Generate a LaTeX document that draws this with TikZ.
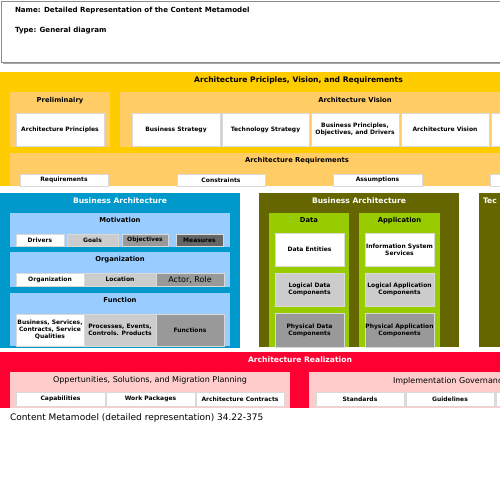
\documentclass[tikz,border=0pt]{standalone}
\usepackage{fontspec}
\setmainfont{DejaVu Sans}
\usetikzlibrary{positioning}
\begin{document}
\begin{tikzpicture}[x=1pt,y=-1pt,
    every node/.style={inner sep=0pt, outer sep=0pt},
    panel/.style={anchor=north west},
    cell/.style={anchor=north west, draw=black!15, align=center,
      font=\fontsize{6}{7}\selectfont\bfseries},
    bandtitle/.style={text height=5.5pt, text depth=1.5pt,
      font=\fontsize{7.6}{9}\selectfont\bfseries},
    subtitle/.style={text height=5pt, text depth=1.5pt,
      font=\fontsize{6.8}{8}\selectfont\bfseries},
    plaintitle/.style={text height=5.5pt, text depth=1.5pt,
      font=\fontsize{8}{9}\selectfont}]

  % colores
  \definecolor{gold}{RGB}{255,204,0}
  \definecolor{peach}{RGB}{255,204,102}
  \definecolor{bizblue}{RGB}{0,153,204}
  \definecolor{skyblue}{RGB}{153,204,255}
  \definecolor{olive}{RGB}{102,102,0}
  \definecolor{lime}{RGB}{153,204,0}
  \definecolor{realred}{RGB}{255,0,51}
  \definecolor{rose}{RGB}{255,204,204}
  \definecolor{lgray}{RGB}{204,204,204}
  \definecolor{mgray}{RGB}{153,153,153}
  \definecolor{dgray}{RGB}{102,102,102}

  \useasboundingbox (0,0) rectangle (500,500);
  \clip (0,0) rectangle (500,500);

  % --- Cabecera ---
  \fill[black!35] (3,62) rectangle (560,64);
  \node[panel, draw=black!45, fill=white, minimum width=560pt, minimum height=61pt] (header) at (1,1) {};
  \node[anchor=west, font=\fontsize{7.1}{8}\selectfont\bfseries] (hname) at (15,11) {Name: Detailed Representation of the Content Metamodel};
  \node[anchor=west, font=\fontsize{7.1}{8}\selectfont\bfseries] (htype) at (15,31) {Type: General diagram};

  % --- Principios, visión y requisitos ---
  \node[panel, fill=gold, minimum width=597pt, minimum height=114pt] (apvr) at (0,72) {};
  \node[bandtitle, below=5.5pt of apvr.north] (apvrt) {Architecture Priciples, Vision, and Requirements};

  \node[panel, fill=peach, minimum width=100pt, minimum height=55pt] (prelim) at (10,92) {};
  \node[subtitle, below=5.5pt of prelim.north] (prelimt) {Preliminairy};
  \node[cell, fill=white, minimum width=88pt, minimum height=33pt] (principles) at (16,113) {Architecture Principles};

  \node[panel, fill=peach, minimum width=470pt, minimum height=55pt] (visionp) at (120,92) {};
  \node[subtitle, below=5.5pt of visionp.north] (visionpt) {Architecture Vision};
  \node[cell, fill=white, minimum width=88pt, minimum height=33pt] (bstrategy) at (132,113) {Business Strategy};
  \node[cell, fill=white, minimum width=87pt, minimum height=33pt] (tstrategy) at (222,113) {Technology Strategy};
  \node[cell, fill=white, minimum width=88pt, minimum height=33pt] (bprinciples) at (311,113) {Business Principles,\\Objectives, and Drivers};
  \node[cell, fill=white, minimum width=88pt, minimum height=33pt] (avision) at (401,113) {Architecture Vision};
  \node[cell, fill=white, minimum width=88pt, minimum height=33pt] (vnext) at (491,113) {};

  \node[panel, fill=peach, minimum width=574pt, minimum height=33pt] (reqp) at (10,153) {};
  \node[subtitle, below=4.5pt of reqp.north] (reqpt) {Architecture Requirements};
  \node[cell, fill=white, minimum width=88pt, minimum height=12pt] (requirements) at (20,174) {Requirements};
  \node[cell, fill=white, minimum width=88pt, minimum height=12pt] (constraints) at (177,174) {Constraints};
  \node[cell, fill=white, minimum width=89pt, minimum height=12pt] (assumptions) at (333,174) {Assumptions};
  \node[cell, fill=white, minimum width=88pt, minimum height=12pt] (rnext) at (490,174) {};

  % --- Arquitectura de negocio (azul) ---
  \node[panel, fill=bizblue, minimum width=240pt, minimum height=155pt] (bizp) at (0,193) {};
  \node[bandtitle, text=white, below=4.5pt of bizp.north] (bizpt) {Business Architecture};

  \node[panel, fill=skyblue, minimum width=220pt, minimum height=34pt] (motivp) at (10,213) {};
  \node[subtitle, below=4pt of motivp.north] (motivpt) {Motivation};
  \node[cell, fill=white, minimum width=48pt, minimum height=12pt] (drivers) at (16,234) {Drivers};
  \node[cell, fill=lgray, minimum width=51pt, minimum height=12pt] (goals) at (67,234) {Goals};
  \node[cell, fill=mgray, minimum width=46pt, minimum height=12pt] (objectives) at (122,234) {Objectives};
  \node[cell, fill=dgray, minimum width=47pt, minimum height=12pt] (measures) at (176,234) {Measures};

  \node[panel, fill=skyblue, minimum width=220pt, minimum height=35pt] (orgp) at (10,252) {};
  \node[subtitle, below=4.5pt of orgp.north] (orgpt) {Organization};
  \node[cell, fill=white, minimum width=68pt, minimum height=13pt] (organization) at (16,273) {Organization};
  \node[cell, fill=lgray, minimum width=72pt, minimum height=13pt] (location) at (84,273) {Location};
  \node[cell, fill=mgray, minimum width=68pt, minimum height=13pt, font=\fontsize{8}{9}\selectfont] (actor) at (156,273) {Actor, Role};

  \node[panel, fill=skyblue, minimum width=220pt, minimum height=53pt] (funcp) at (10,293) {};
  \node[subtitle, below=4.5pt of funcp.north] (funcpt) {Function};
  \node[cell, fill=white, minimum width=68pt, minimum height=32pt] (bservices) at (16,314) {Business, Services,\\Contracts, Service\\Qualities};
  \node[cell, fill=lgray, minimum width=72pt, minimum height=32pt] (processes) at (84,314) {Processes, Events,\\Controls. Products};
  \node[cell, fill=mgray, minimum width=68pt, minimum height=32pt] (functions) at (156,314) {Functions};

  % --- Arquitectura de negocio (datos y aplicaciones) ---
  \node[panel, fill=olive, minimum width=200pt, minimum height=154pt] (isp) at (259,193) {};
  \node[bandtitle, text=white, below=4.5pt of isp.north] (ispt) {Business Architecture};

  \node[panel, fill=lime, minimum width=80pt, minimum height=134pt] (datap) at (269,213) {};
  \node[subtitle, below=4.5pt of datap.north] (datapt) {Data};
  \node[cell, fill=white, minimum width=69pt, minimum height=33pt] (dentities) at (275,233) {Data Entities};
  \node[cell, fill=lgray, minimum width=69pt, minimum height=33pt] (ldata) at (275,273) {Logical Data\\Components};
  \node[cell, fill=mgray, minimum width=69pt, minimum height=34pt] (pdata) at (275,313) {Physical Data\\Components};

  \node[panel, fill=lime, minimum width=81pt, minimum height=134pt] (appp) at (359,213) {};
  \node[subtitle, below=4.5pt of appp.north] (apppt) {Application};
  \node[cell, fill=white, minimum width=69pt, minimum height=33pt] (iss) at (365,233) {Information System\\Services};
  \node[cell, fill=lgray, minimum width=69pt, minimum height=33pt] (lapp) at (365,273) {Logical Application\\Components};
  \node[cell, fill=mgray, minimum width=69pt, minimum height=34pt] (papp) at (365,313) {Physical Application\\Components};

  % --- Arquitectura tecnológica (cortada) ---
  \node[panel, fill=olive, minimum width=114pt, minimum height=154pt] (tecp) at (479,193) {};
  \node[bandtitle, text=white, anchor=west] (tecpt) at (483,201) {Tec};

  % --- Realización de la arquitectura ---
  \node[panel, fill=realred, minimum width=600pt, minimum height=56pt] (realp) at (0,352) {};
  \node[bandtitle, text=white, below=5pt of realp.north] (realpt) {Architecture Realization};

  \node[panel, fill=rose, minimum width=280pt, minimum height=36pt] (oppp) at (10,372) {};
  \node[plaintitle, below=5pt of oppp.north] (opppt) {Oppertunities, Solutions, and Migration Planning};
  \node[cell, fill=white, minimum width=89pt, minimum height=14pt] (capabilities) at (16,392) {Capabilities};
  \node[cell, fill=white, minimum width=89pt, minimum height=14pt] (workpackages) at (106,392) {Work Packages};
  \node[cell, fill=white, minimum width=88pt, minimum height=14pt] (contracts) at (196,392) {Architecture Contracts};

  \node[panel, fill=rose, minimum width=268pt, minimum height=36pt] (govp) at (309,372) {};
  \node[plaintitle, anchor=west] (govpt) at (393,381) {Implementation Governance};
  \node[cell, fill=white, minimum width=88pt, minimum height=14pt] (standards) at (316,392) {Standards};
  \node[cell, fill=white, minimum width=88pt, minimum height=14pt] (guidelines) at (406,392) {Guidelines};
  \node[cell, fill=white, minimum width=88pt, minimum height=14pt] (gnext) at (496,392) {};

  % pie de figura
  \node[anchor=west, font=\fontsize{9}{10}\selectfont] (caption) at (10,418) {Content Metamodel (detailed representation) 34.22-375};
\end{tikzpicture}
\end{document}
